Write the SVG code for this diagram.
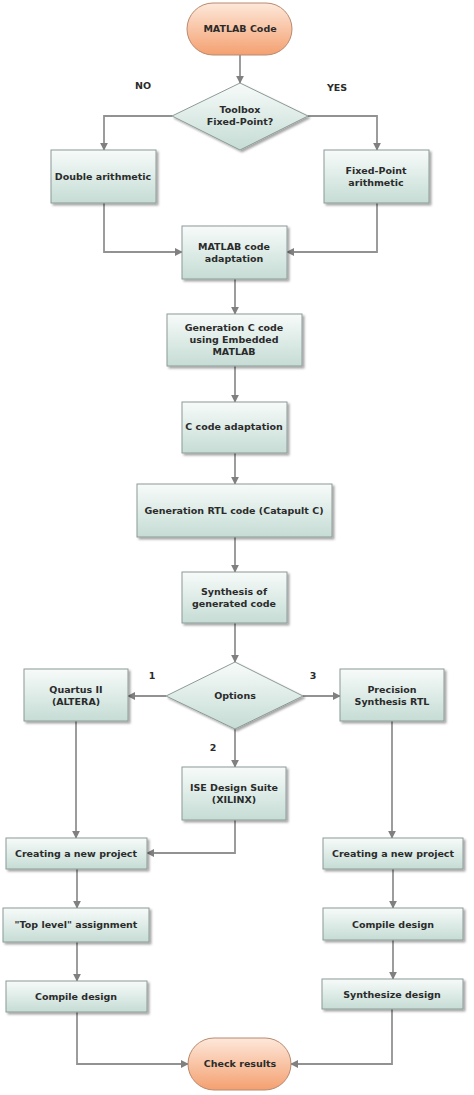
<svg xmlns="http://www.w3.org/2000/svg" width="474" height="1095" viewBox="0 0 474 1095">
<defs>
<linearGradient id="gBox" x1="0" y1="0" x2="0" y2="1">
<stop offset="0" stop-color="#f7fbfa"/>
<stop offset="1" stop-color="#c5dcd4"/>
</linearGradient>
<linearGradient id="gTerm" x1="0" y1="0" x2="0" y2="1">
<stop offset="0" stop-color="#fde8da"/>
<stop offset="1" stop-color="#f4a070"/>
</linearGradient>
<marker id="arr" viewBox="0 0 10 10" refX="9" refY="5" markerWidth="8" markerHeight="8" markerUnits="userSpaceOnUse" orient="auto">
<path d="M0,0 L10,5 L0,10 z" fill="#808080"/>
</marker>
<filter id="sh" x="-10%" y="-10%" width="130%" height="140%">
<feDropShadow dx="2" dy="2" stdDeviation="1" flood-color="#000" flood-opacity="0.35"/>
</filter>
</defs>
<style>
.box{fill:url(#gBox);stroke:#8c9a97;stroke-width:1;filter:url(#sh)}
.term{fill:url(#gTerm);stroke:#b88a70;stroke-width:1}
.dia{fill:url(#gBox);stroke:#8c9a97;stroke-width:1;filter:url(#sh)}
.t{font-family:"DejaVu Sans",Verdana,sans-serif;font-weight:bold;font-size:9.5px;fill:#2b2b2b;text-anchor:middle}
.c{fill:none;stroke:#929292;stroke-width:1.8;marker-end:url(#arr)}
</style>
<g id="connectors">
<path class="c" d="M240,55 V83"/>
<path class="c" d="M172,116 H104 V150"/>
<path class="c" d="M308,116 H377 V150"/>
<path class="c" d="M104,203 V252 H182"/>
<path class="c" d="M377,203 V252 H287"/>
<path class="c" d="M235,279 V314"/>
<path class="c" d="M235,366 V402"/>
<path class="c" d="M235,453 V484"/>
<path class="c" d="M235,537 V572"/>
<path class="c" d="M235,623 V662"/>
<path class="c" d="M166,696 H128"/>
<path class="c" d="M303,696 H340"/>
<path class="c" d="M235,729 V767"/>
<path class="c" d="M76,721 V838"/>
<path class="c" d="M392,721 V838"/>
<path class="c" d="M235,820 V853 H147"/>
<path class="c" d="M77,869 V908"/>
<path class="c" d="M77,942 V981"/>
<path class="c" d="M393,869 V908"/>
<path class="c" d="M393,940 V979"/>
<path class="c" d="M77,1012 V1064 H188"/>
<path class="c" d="M392,1009 V1064 H291"/>
<text class="t" x="143" y="89">NO</text>
<text class="t" x="337" y="91">YES</text>
<text class="t" x="152" y="679">1</text>
<text class="t" x="313" y="679">3</text>
<text class="t" x="213" y="751">2</text>
</g>
<g id="n_matlab">
<rect class="term" x="187" y="3" width="105" height="52" rx="26"/>
<text class="t" x="240" y="32">MATLAB Code</text>
</g>
<g id="n_toolbox">
<path class="dia" d="M240,83 L308,116 L240,150 L172,116 Z"/>
<text class="t" x="240" y="113">Toolbox</text>
<text class="t" x="240" y="125">Fixed-Point?</text>
</g>
<g id="n_double">
<rect class="box" x="51" y="150" width="105" height="53"/>
<text class="t" x="103" y="180">Double arithmetic</text>
</g>
<g id="n_fixed">
<rect class="box" x="324" y="150" width="105" height="53"/>
<text class="t" x="376" y="174">Fixed-Point</text>
<text class="t" x="376" y="186">arithmetic</text>
</g>
<g id="n_adapt">
<rect class="box" x="182" y="226" width="105" height="53"/>
<text class="t" x="234" y="250">MATLAB code</text>
<text class="t" x="234" y="262">adaptation</text>
</g>
<g id="n_genc">
<rect class="box" x="167" y="314" width="135" height="52"/>
<text class="t" x="234" y="331">Generation C code</text>
<text class="t" x="234" y="343">using Embedded</text>
<text class="t" x="234" y="355">MATLAB</text>
</g>
<g id="n_cadapt">
<rect class="box" x="182" y="402" width="105" height="51"/>
<text class="t" x="234" y="430">C code adaptation</text>
</g>
<g id="n_rtl">
<rect class="box" x="137" y="484" width="195" height="53"/>
<text class="t" x="234" y="514">Generation RTL code (Catapult C)</text>
</g>
<g id="n_synth">
<rect class="box" x="182" y="572" width="105" height="51"/>
<text class="t" x="234" y="595">Synthesis of</text>
<text class="t" x="234" y="607">generated code</text>
</g>
<g id="n_options">
<path class="dia" d="M235,662 L303,696 L235,729 L166,696 Z"/>
<text class="t" x="235" y="699">Options</text>
</g>
<g id="n_quartus">
<rect class="box" x="24" y="669" width="104" height="52"/>
<text class="t" x="76" y="693">Quartus II</text>
<text class="t" x="76" y="705">(ALTERA)</text>
</g>
<g id="n_precision">
<rect class="box" x="340" y="669" width="104" height="52"/>
<text class="t" x="392" y="693">Precision</text>
<text class="t" x="392" y="705">Synthesis RTL</text>
</g>
<g id="n_ise">
<rect class="box" x="182" y="767" width="104" height="53"/>
<text class="t" x="234" y="791">ISE Design Suite</text>
<text class="t" x="234" y="803">(XILINX)</text>
</g>
<g id="n_newproj_l">
<rect class="box" x="6" y="838" width="141" height="31"/>
<text class="t" x="76" y="857">Creating a new project</text>
</g>
<g id="n_newproj_r">
<rect class="box" x="323" y="838" width="140" height="31"/>
<text class="t" x="393" y="857">Creating a new project</text>
</g>
<g id="n_toplevel">
<rect class="box" x="3" y="908" width="146" height="34"/>
<text class="t" x="76" y="928">"Top level" assignment</text>
</g>
<g id="n_compile_l">
<rect class="box" x="6" y="981" width="141" height="31"/>
<text class="t" x="76" y="1000">Compile design</text>
</g>
<g id="n_compile_r">
<rect class="box" x="323" y="908" width="140" height="32"/>
<text class="t" x="393" y="928">Compile design</text>
</g>
<g id="n_synthdesign">
<rect class="box" x="322" y="979" width="141" height="30"/>
<text class="t" x="392" y="998">Synthesize design</text>
</g>
<g id="n_check">
<rect class="term" x="188" y="1038" width="103" height="52" rx="26"/>
<text class="t" x="240" y="1067">Check results</text>
</g>
</svg>
